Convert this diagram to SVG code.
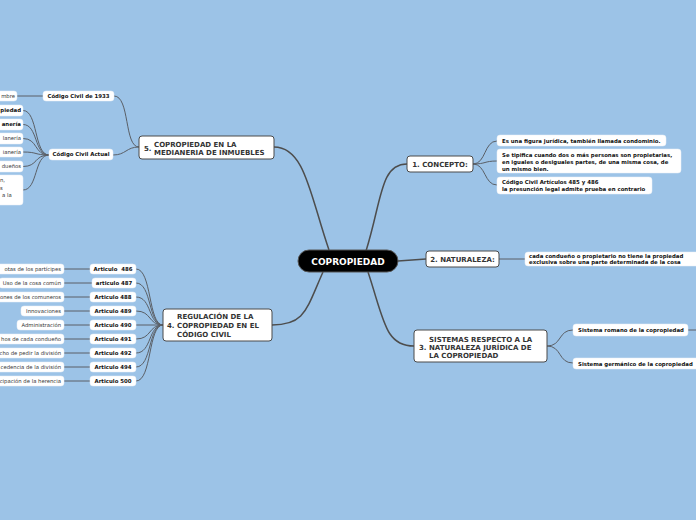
<svg xmlns="http://www.w3.org/2000/svg" width="696" height="520" viewBox="0 0 696 520">
<style>
text{font-family:"DejaVu Sans","Verdana",sans-serif;}
.main rect{fill:#fff;stroke:#4a4a4a;stroke-width:1;}
.main text{font-size:7px;font-weight:bold;fill:#333;}
.leaf rect{fill:#fff;stroke:#e8eef5;stroke-width:0.5;}
.leaf text{font-size:5.4px;font-weight:bold;fill:#111;}
.leaf text.n{font-size:5.3px;font-weight:normal;fill:#333;}
.c path{fill:none;stroke:#5a5f66;stroke-width:1;}
.c path.m{stroke:#4d4d4d;stroke-width:1.5;}
</style>
<rect width="696" height="520" fill="#9cc3e7"/>
<g class="c" id="connectors">
<path class="m" d="M366,251 C382,200 380,164 407,164"/>
<path class="m" d="M398,261 L426,259"/>
<path class="m" d="M368,272 C384,320 385,346 414,346"/>
<path class="m" d="M323,272 C306,310 305,325 272,325"/>
<path class="m" d="M329,250 C310,195 305,147 274,147"/>
<path d="M473,164 C486,164 484,141 497,141"/>
<path d="M473,164 C486,164 484,161 497,161"/>
<path d="M473,164 C486,164 484,185 497,185"/>
<path d="M499,259 L525,259"/>
<path d="M547,346 C562,346 558,330 573,330"/>
<path d="M547,346 C562,346 558,363 573,363"/>
<path d="M688,330 L696,330"/>
<path d="M136,269 C152,269 148,325 163,325"/>
<path d="M136,283 C152,283 148,325 163,325"/>
<path d="M136,297 C152,297 148,325 163,325"/>
<path d="M136,311 C152,311 148,325 163,325"/>
<path d="M136,325 L163,325"/>
<path d="M136,339 C152,339 148,325 163,325"/>
<path d="M136,353 C152,353 148,325 163,325"/>
<path d="M136,367 C152,367 148,325 163,325"/>
<path d="M136,381 C152,381 148,325 163,325"/>
<path d="M64,269 L90,269"/>
<path d="M64,283 L92,283"/>
<path d="M64,297 L90,297"/>
<path d="M64,311 L90,311"/>
<path d="M64,325 L90,325"/>
<path d="M64,339 L90,339"/>
<path d="M64,353 L90,353"/>
<path d="M64,367 L90,367"/>
<path d="M64,381 L90,381"/>
<path d="M114,96 C130,96 124,147 139,147"/>
<path d="M113,155 C126,155 126,147 139,147"/>
<path d="M17,96 L43,96"/>
<path d="M23,110.5 C38,110.5 34,155 49,155"/>
<path d="M23,124.5 C38,124.5 34,155 49,155"/>
<path d="M23,138.5 C38,138.5 34,155 49,155"/>
<path d="M23,152 C38,152 34,155 49,155"/>
<path d="M23,166.5 C38,166.5 34,155 49,155"/>
<path d="M23,190 C38,190 34,155 49,155"/>
</g>
<g id="central">
<rect x="298" y="250" width="100" height="22" rx="11" fill="#000" stroke="#555" stroke-width="1"/>
<text x="348" y="265" text-anchor="middle" font-size="9" font-weight="bold" fill="#fff">COPROPIEDAD</text>
</g>
<g id="n1" class="main">
<rect x="407" y="156" width="66" height="16" rx="3"/>
<text x="440" y="166.5" text-anchor="middle">1. CONCEPTO:</text>
</g>
<g id="n1a" class="leaf"><rect x="497" y="135" width="169" height="11" rx="3"/><text x="502" y="142.5">Es una figura jurídica, también llamada condominio.</text></g>
<g id="n1b" class="leaf"><rect x="497" y="149" width="184" height="24" rx="3"/><text x="502" y="157">Se tipifica cuando dos o más personas son propietarias,</text><text x="502" y="164">en iguales o desiguales partes, de una misma cosa, de</text><text x="502" y="170.5">un mismo bien.</text></g>
<g id="n1c" class="leaf"><rect x="497" y="177" width="155" height="17" rx="3"/><text x="502" y="184">Código Civil Artículos 485 y 486</text><text x="502" y="191">la presunción legal admite prueba en contrario</text></g>
<g id="n2" class="main">
<rect x="426" y="251" width="73" height="16" rx="3"/>
<text x="462.5" y="261.5" text-anchor="middle">2. NATURALEZA:</text>
</g>
<g id="n2a" class="leaf"><rect x="525" y="252" width="180" height="14" rx="3"/><text x="529" y="257.5">cada condueño o propietario no tiene la propiedad</text><text x="529" y="264">exclusiva sobre una parte determinada de la cosa</text></g>
<g id="n3" class="main">
<rect x="414" y="330" width="133" height="32" rx="3"/>
<text x="419" y="349.5">3.</text>
<text x="429" y="341.5">SISTEMAS RESPECTO A LA</text>
<text x="429" y="349.5">NATURALEZA JURÍDICA DE</text>
<text x="429" y="357.5">LA COPROPIEDAD</text>
</g>
<g id="n3a" class="leaf"><rect x="573" y="324" width="115" height="12" rx="3"/><text x="578" y="331.8">Sistema romano de la copropiedad</text></g>
<g id="n3b" class="leaf"><rect x="573" y="358" width="130" height="11" rx="3"/><text x="578" y="365.5">Sistema germánico de la copropiedad</text></g>
<g id="n4" class="main">
<rect x="163" y="309" width="109" height="32" rx="3"/>
<text x="167" y="327.5">4.</text>
<text x="177" y="318.5">REGULACIÓN DE LA</text>
<text x="177" y="327.5">COPROPIEDAD EN EL</text>
<text x="177" y="336.5">CÓDIGO CIVIL</text>
</g>
<g id="a486" class="leaf"><rect x="90" y="264" width="46" height="10" rx="3"/><text x="113" y="270.9" text-anchor="middle" xml:space="preserve">Articulo  486</text></g>
<g id="a487" class="leaf"><rect x="92" y="278" width="44" height="10" rx="3"/><text x="114" y="284.9" text-anchor="middle">articulo 487</text></g>
<g id="a488" class="leaf"><rect x="90" y="292" width="46" height="10" rx="3"/><text x="113" y="298.9" text-anchor="middle">Articulo 488</text></g>
<g id="a489" class="leaf"><rect x="90" y="306" width="46" height="10" rx="3"/><text x="113" y="312.9" text-anchor="middle">Articulo 489</text></g>
<g id="a490" class="leaf"><rect x="90" y="320" width="46" height="10" rx="3"/><text x="113" y="326.9" text-anchor="middle">Articulo 490</text></g>
<g id="a491" class="leaf"><rect x="90" y="334" width="46" height="10" rx="3"/><text x="113" y="340.9" text-anchor="middle">Articulo 491</text></g>
<g id="a492" class="leaf"><rect x="90" y="348" width="46" height="10" rx="3"/><text x="113" y="354.9" text-anchor="middle">Articulo 492</text></g>
<g id="a494" class="leaf"><rect x="90" y="362" width="46" height="10" rx="3"/><text x="113" y="368.9" text-anchor="middle">Articulo 494</text></g>
<g id="a500" class="leaf"><rect x="90" y="376" width="46" height="10" rx="3"/><text x="113" y="382.9" text-anchor="middle">Articulo 500</text></g>
<g id="l486" class="leaf"><rect x="-10" y="264" width="74" height="10" rx="3"/><text class="n" x="61" y="270.9" text-anchor="end">otas de los partícipes</text></g>
<g id="l487" class="leaf"><rect x="-1" y="278" width="65" height="10" rx="3"/><text class="n" x="61" y="284.9" text-anchor="end">Uso de la cosa común</text></g>
<g id="l488" class="leaf"><rect x="-10" y="292" width="74" height="10" rx="3"/><text class="n" x="61" y="298.9" text-anchor="end">ones de los comuneros</text></g>
<g id="l489" class="leaf"><rect x="21" y="306" width="43" height="10" rx="3"/><text class="n" x="61" y="312.9" text-anchor="end">Innovaciones</text></g>
<g id="l490" class="leaf"><rect x="17" y="320" width="47" height="10" rx="3"/><text class="n" x="61" y="326.9" text-anchor="end">Administración</text></g>
<g id="l491" class="leaf"><rect x="-10" y="334" width="74" height="10" rx="3"/><text class="n" x="61" y="340.9" text-anchor="end">hos de cada condueño</text></g>
<g id="l492" class="leaf"><rect x="-10" y="348" width="74" height="10" rx="3"/><text class="n" x="61" y="354.9" text-anchor="end">cho de pedir la división</text></g>
<g id="l494" class="leaf"><rect x="-10" y="362" width="74" height="10" rx="3"/><text class="n" x="61" y="368.9" text-anchor="end">cedencia de la división</text></g>
<g id="l500" class="leaf"><rect x="-10" y="376" width="74" height="10" rx="3"/><text class="n" x="61" y="382.9" text-anchor="end">cipación de la herencia</text></g>
<g id="n5" class="main">
<rect x="139" y="136" width="135" height="23" rx="3"/>
<text x="144" y="150.5">5.</text>
<text x="154" y="146.5">COPROPIEDAD EN LA</text>
<text x="154" y="154.5">MEDIANERIA DE INMUEBLES</text>
</g>
<g id="c1933" class="leaf"><rect x="43" y="91" width="71" height="10" rx="3"/><text x="78.5" y="97.9" text-anchor="middle">Código Civil de 1933</text></g>
<g id="cactual" class="leaf"><rect x="49" y="149" width="64" height="11" rx="3"/><text x="81" y="156.4" text-anchor="middle">Código Civil Actual</text></g>
<g id="t1" class="leaf"><rect x="-10" y="91" width="27" height="10" rx="3"/><text class="n" x="15" y="97.9" text-anchor="end">mbre</text></g>
<g id="t2" class="leaf"><rect x="-10" y="105" width="33" height="11" rx="3"/><text x="21" y="112.4" text-anchor="end">piedad</text></g>
<g id="t3" class="leaf"><rect x="-10" y="119" width="33" height="11" rx="3"/><text x="21" y="126.4" text-anchor="end">anería</text></g>
<g id="t4" class="leaf"><rect x="-10" y="133" width="33" height="11" rx="3"/><text class="n" x="21" y="140.4" text-anchor="end">lanería</text></g>
<g id="t5" class="leaf"><rect x="-10" y="147" width="33" height="10" rx="3"/><text class="n" x="21" y="153.9" text-anchor="end">ianería</text></g>
<g id="t6" class="leaf"><rect x="-10" y="161" width="33" height="11" rx="3"/><text class="n" x="21" y="168.4" text-anchor="end">dueños</text></g>
<g id="t7" class="leaf"><rect x="-10" y="175" width="33" height="30" rx="3"/><text class="n" x="0" y="182">n,</text><text class="n" x="0" y="189.5">s</text><text class="n" x="2" y="197">a la</text></g>
</svg>
